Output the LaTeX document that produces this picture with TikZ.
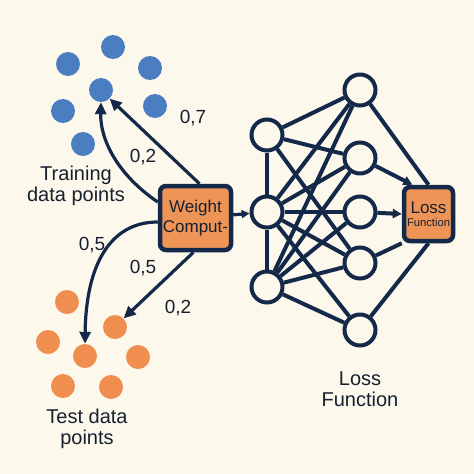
\documentclass[tikz,border=0pt]{standalone}
\usepackage{fontspec}
\setmainfont{Liberation Sans}
\usetikzlibrary{arrows.meta,calc}
\definecolor{bgc}{HTML}{FCF8EC}
\definecolor{navy}{HTML}{14294A}
\definecolor{dotblue}{HTML}{4B7EC0}
\definecolor{dotorange}{HTML}{EF8E4F}
\definecolor{boxorange}{HTML}{EE9457}
\definecolor{txt}{HTML}{17202E}
\tikzset{
  bluedot/.style={circle,fill=dotblue,minimum size=24pt,inner sep=0pt},
  orangedot/.style={circle,fill=dotorange,minimum size=24pt,inner sep=0pt},
  neuron/.style={circle,draw=navy,line width=4pt,fill=bgc,minimum size=31pt,inner sep=0pt},
  procbox/.style={draw=navy,line width=4.5pt,fill=boxorange,rounded corners=6pt,inner sep=0pt,text=txt,align=center},
  lbl/.style={text=txt,font=\fontsize{20}{21.5}\selectfont,align=center},
  wlbl/.style={text=txt,font=\fontsize{19}{20}\selectfont},
  arr/.style={draw=navy,line width=3.2pt,-{Triangle[length=12pt,width=11pt]}},
  link/.style={draw=navy,line width=4pt},
  linkarr/.style={draw=navy,line width=4pt,-{Triangle[length=9pt,width=9pt]}}
}
\begin{document}
\begin{tikzpicture}[x=1pt,y=-1pt]
\fill[bgc] (0,0) rectangle (474,474);
\useasboundingbox (0,0) rectangle (474,474);
% training points
\node[bluedot] (t1) at (113,47) {};
\node[bluedot] (t2) at (68,64) {};
\node[bluedot] (t3) at (150,68) {};
\node[bluedot] (t4) at (101,90) {};
\node[bluedot] (t5) at (63,111) {};
\node[bluedot] (t6) at (155,106) {};
\node[bluedot] (t7) at (83,144) {};
\node[lbl] (tl) at (76,186) {Training\\data points};
% test points
\node[orangedot] (p1) at (67,302) {};
\node[orangedot] (p2) at (115,327) {};
\node[orangedot] (p3) at (48,342) {};
\node[orangedot] (p4) at (85,356) {};
\node[orangedot] (p5) at (138,357) {};
\node[orangedot] (p6) at (63,386) {};
\node[orangedot] (p7) at (111,387) {};
\node[lbl] (pl) at (87,429) {Test data\\points};
% weight box
\node[procbox,minimum width=71pt,minimum height=64pt,font=\fontsize{17}{20}\selectfont] (wb) at (195.5,218) {Weight\\Comput-};
% arrows to points
\draw[arr] ($(wb.west)+(0,-16)$) .. controls (118,175) and (100,140) .. (t4.south);
\draw[arr] ($(wb.north)+(4,0)$) -- (t4.south east);
\draw[arr] ($(wb.west)+(0,4)$) .. controls (110,222) and (86,265) .. (p4.north);
\draw[arr] ($(wb.south)+(-2,0)$) -- (p2.north east);
\node[wlbl] (w1) at (193,118) {0,7};
\node[wlbl] (w2) at (143,157) {0,2};
\node[wlbl] (w3) at (92,245) {0,5};
\node[wlbl] (w4) at (143,268) {0,5};
\node[wlbl] (w5) at (178,308) {0,2};
% network
\node[neuron] (a1) at (267,135) {};
\node[neuron] (a2) at (267,212) {};
\node[neuron] (a3) at (267,287) {};
\node[neuron] (b1) at (360,90) {};
\node[neuron] (b2) at (360,158) {};
\node[neuron] (b3) at (360,212) {};
\node[neuron] (b4) at (360,263) {};
\node[neuron] (b5) at (360,330) {};
\node[procbox,minimum width=49pt,minimum height=54pt] (loss) at (428.5,214) {{\fontsize{17}{19}\selectfont Loss}\\[1pt]{\fontsize{11.2}{13}\selectfont Function}};
\node[lbl] (ll) at (360,389) {Loss\\Function};
\draw[arr,-{Triangle[length=8pt,width=8pt]}] (wb) -- (a2);
\draw[link] (a1) -- (a2);
\draw[link] (a2) -- (a3);
\draw[link] (a1) -- (b1);
\draw[link] (a1) -- (b2);
\draw[link] (a1) -- (b4);
\draw[link] (a2) -- (b1);
\draw[link] (a2) -- (b2);
\draw[link] (a2) -- (b3);
\draw[link] (a2) -- (b4);
\draw[link] (a2) -- (b5);
\draw[link] (a3) -- (b1);
\draw[link] (a3) -- (b2);
\draw[link] (a3) -- (b3);
\draw[link] (a3) -- (b4);
\draw[link] (a3) -- (b5);
\draw[link] (b1) -- (loss.north);
\draw[linkarr] (b2) -- ($(loss.north west)!0.2!(loss.north east)$);
\draw[linkarr] (b3) -- (loss.west);
\draw[link] (b4) -- (loss.south west);
\draw[link] (b5) -- (loss.south);
\end{tikzpicture}
\end{document}
